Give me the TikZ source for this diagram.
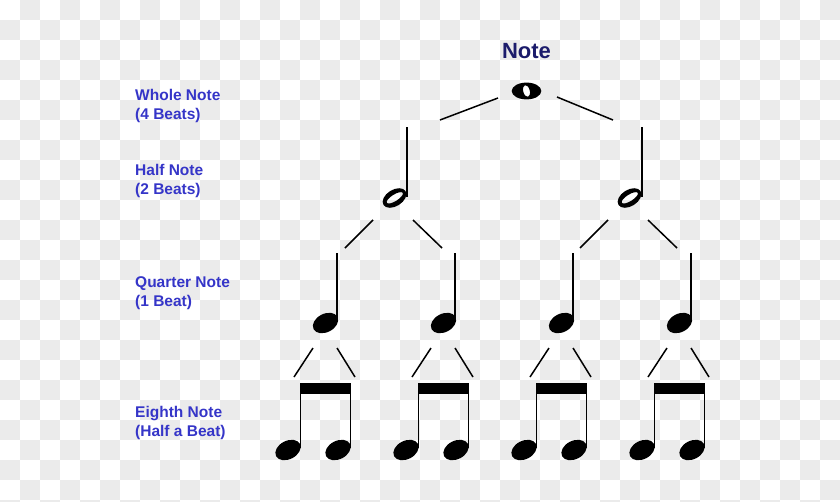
\documentclass[tikz,border=0pt]{standalone}
\usepackage{fontspec}
\setmainfont{Liberation Sans}
\usepackage{xcolor}
\usepackage{tikz}
\usetikzlibrary{calc}
\definecolor{ink}{HTML}{000000}
\definecolor{paper}{HTML}{FFFFFF}
\definecolor{checker}{HTML}{EBEBEB}
\definecolor{lvlblue}{HTML}{3535C8}
\definecolor{navy}{HTML}{1B1B6B}
\tikzset{
  stem/.style={draw=ink, line width=1.8pt},
  link/.style={draw=ink, line width=1.5pt, line cap=butt},
  lvl/.style={text=lvlblue, font=\bfseries\fontsize{15.5}{19.5}\selectfont, align=left, anchor=base west, inner sep=0pt},
  ttl/.style={text=navy, font=\bfseries\fontsize{22}{26}\selectfont, anchor=base, inner sep=0pt},
  wholenote/.pic={
    \fill[ink, even odd rule] (0,0) ellipse [x radius=14.8, y radius=8.4]
      [rotate=15] (0,0) ellipse [x radius=3.3, y radius=6];
  },
  halfnote/.pic={
    \fill[ink, even odd rule, rotate=32] (0,0) ellipse [x radius=13, y radius=8.2]
      (0.3,0) ellipse [x radius=9.4, y radius=3.3];
    \draw[stem] (12.2,-1) -- (12.2,-71);
  },
  quarternote/.pic={
    \fill[ink, rotate=27] (0,0) ellipse [x radius=13.4, y radius=9.2];
    \draw[stem] (11.7,-2) -- (11.7,-70);
  },
  eighthpair/.pic={
    \fill[ink, rotate=27] (0,0) ellipse [x radius=13.4, y radius=9.2];
    \fill[ink, shift={(50,0)}, rotate=27] (0,0) ellipse [x radius=13.4, y radius=9.2];
    \draw[stem] (12.5,-2) -- (12.5,-60);
    \draw[stem] (62.5,-2) -- (62.5,-60);
    \fill[ink] (11.6,-67) rectangle (63.4,-56);
  },
}

\begin{document}
\begin{tikzpicture}[x=1pt, y=-1pt]
  \useasboundingbox (0,0) rectangle (840,501);
  \fill[paper] (0,0) rectangle (840,501);
  \foreach \i in {0,...,41} {
    \foreach \j in {0,...,25} {
      \pgfmathtruncatemacro{\parity}{mod(\i+\j,2)}
      \ifnum\parity=1
        \fill[checker] (20*\i,20*\j) rectangle ++(20,20);
      \fi
    }
  }

  \coordinate (W) at (526.5,91);
  \coordinate (H1) at (394.5,198);
  \coordinate (H2) at (629.5,198);
  \foreach \k/\x in {1/325.5,2/443.5,3/561.5,4/679.5} {
    \coordinate (Q\k) at (\x,323);
    \coordinate (E\k) at (\x-37.5,450);
  }

  \node[ttl] (title) at (526.5,58) {Note};
  \pic at (W) {wholenote};
  \pic at (H1) {halfnote};
  \pic at (H2) {halfnote};
  \foreach \k in {1,...,4} {
    \pic at (Q\k) {quarternote};
    \pic at (E\k) {eighthpair};
  }

  \draw[link] ($(W)+(-28.5,7)$) -- ($(W)+(-86.5,29)$);
  \draw[link] ($(W)+(30.5,6)$) -- ($(W)+(86.5,29)$);
  \foreach \h in {H1,H2} {
    \draw[link] ($(\h)+(-21.5,22)$) -- ++(-28,28);
    \draw[link] ($(\h)+(18.5,22)$) -- ++(29,28);
  }
  \foreach \k in {1,...,4} {
    \draw[link] ($(Q\k)+(-12.5,25)$) -- ++(-19,29);
    \draw[link] ($(Q\k)+(11.5,25)$) -- ++(18,29);
  }

  \node[lvl] (lblWhole) at (135,119.5) {Whole Note\\(4 Beats)};
  \node[lvl] (lblHalf) at (135,194.5) {Half Note\\(2 Beats)};
  \node[lvl] (lblQuarter) at (135,306.5) {Quarter Note\\(1 Beat)};
  \node[lvl] (lblEighth) at (135,436.5) {Eighth Note\\(Half a Beat)};
\end{tikzpicture}
\end{document}
